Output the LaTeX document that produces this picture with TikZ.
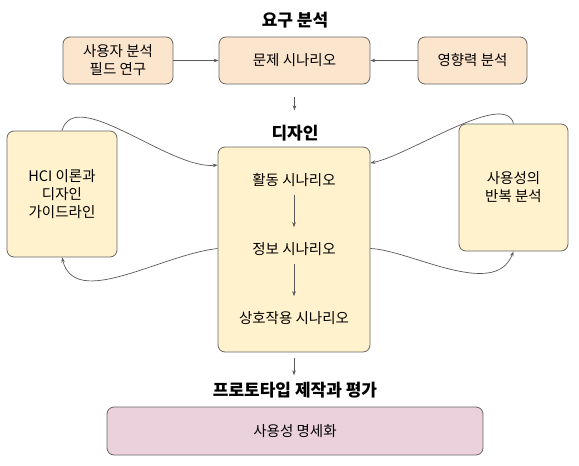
\documentclass[tikz,border=0pt]{standalone}
\usepackage{fontspec}
\setmainfont{Noto Sans CJK KR}
\usetikzlibrary{arrows.meta}
\definecolor{peach}{HTML}{FCE5CD}
\definecolor{lyellow}{HTML}{FFF2CC}
\definecolor{lpink}{HTML}{EAD1DC}
\definecolor{edge}{HTML}{666666}
\definecolor{lin}{HTML}{595959}
\begin{document}
\begin{tikzpicture}[x=1pt,y=-1pt,
  box/.style={draw=edge,line width=0.8pt,rounded corners=7pt,align=center,inner sep=0pt,font=\fontsize{14.5}{18}\selectfont},
  req/.style={box,fill=peach},
  des/.style={box,fill=lyellow},
  spec/.style={box,fill=lpink},
  ttl/.style={font=\fontsize{17}{18}\selectfont\bfseries,inner sep=0pt},
  txt/.style={font=\fontsize{14.5}{18}\selectfont,inner sep=0pt},
  arr/.style={draw=lin,line width=0.7pt,-{Stealth[length=5pt,width=3.6pt]}}]
\useasboundingbox (0,0) rectangle (579,466);
\node[ttl] (t1) at (295,20) {요구 분석};
\node[req,minimum width=110pt,minimum height=47pt] (b1) at (118,60.5) {사용자 분석\\필드 연구};
\node[req,minimum width=151pt,minimum height=47pt] (b2) at (294.5,60.5) {문제 시나리오};
\node[req,minimum width=109pt,minimum height=47pt] (b3) at (472.5,60.5) {영향력 분석};
\node[ttl] (t2) at (295,133) {디자인};
\node[des,minimum width=152pt,minimum height=205pt] (big) at (294,249.5) {};
\node[des,minimum width=110pt,minimum height=126pt] (hci) at (62,194) {HCI 이론과\\디자인\\가이드라인};
\node[des,minimum width=109pt,minimum height=127pt] (rt) at (513.5,187.5) {사용성의\\반복 분석};
\node[txt] (s1) at (294,180) {활동 시나리오};
\node[txt] (s2) at (294,249) {정보 시나리오};
\node[txt] (s3) at (294,318) {상호작용 시나리오};
\node[ttl] (t3) at (295,390) {프로토타입 제작과 평가};
\node[spec,minimum width=376pt,minimum height=48pt] (bot) at (295,431) {사용성 명세화};
% connectors
\draw[arr] (b1) -- (b2);
\draw[arr] (b3) -- (b2);
\draw[arr,shorten <=13pt,shorten >=14.5pt] (b2.south) -- (b2.south |- t2.north);
\draw[arr,shorten <=8pt,shorten >=15pt] (s1.south) -- (s1.south |- s2.north);
\draw[arr,shorten <=8pt,shorten >=15pt] (s2.south) -- (s2.south |- s3.north);
\draw[arr,shorten <=6pt,shorten >=6.5pt] (big.south) -- (big.south |- t3.north);
\draw[arr] (hci.north) .. controls (75,85) and (170,170) .. ([yshift=84.5pt]big.west);
\draw[arr] ([yshift=1pt]big.west) .. controls (160,255) and (75,310) .. (hci.south);
\draw[arr] (rt.north) .. controls (505,90) and (410,155) .. ([yshift=86.5pt]big.east);
\draw[arr] ([yshift=1pt]big.east) .. controls (410,250) and (495,300) .. (rt.south);
\end{tikzpicture}
\end{document}
